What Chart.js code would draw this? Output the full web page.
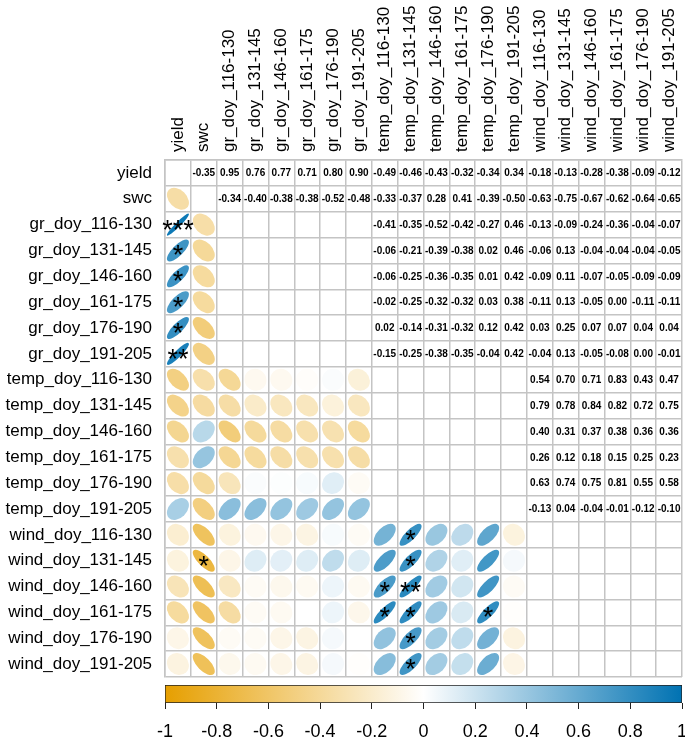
<!DOCTYPE html>
<html>
<head>
<meta charset="utf-8">
<title>Correlation matrix</title>
<script src="https://cdn.jsdelivr.net/npm/chart.js@4.4.1/dist/chart.umd.min.js"></script>
<style>
  html, body { margin: 0; padding: 0; background: #fff; }
  #wrap { position: relative; width: 685px; height: 739px; overflow: hidden; }
  #matrix { position: absolute; left: 0; top: 0; }
  #scale { position: absolute; left: 0; top: 680px; }
</style>
</head>
<body>
<div id="wrap">
  <canvas id="matrix" width="685" height="680"></canvas>
  <canvas id="scale" width="685" height="59"></canvas>
</div>
<script>
const variables = [
    'yield', 'swc',
    'gr_doy_116-130', 'gr_doy_131-145', 'gr_doy_146-160', 'gr_doy_161-175', 'gr_doy_176-190', 'gr_doy_191-205',
    'temp_doy_116-130', 'temp_doy_131-145', 'temp_doy_146-160', 'temp_doy_161-175', 'temp_doy_176-190', 'temp_doy_191-205',
    'wind_doy_116-130', 'wind_doy_131-145', 'wind_doy_146-160', 'wind_doy_161-175', 'wind_doy_176-190', 'wind_doy_191-205'
];

// yield against swc, gr, temp, wind
const yieldCor = [-0.35, 0.95, 0.76, 0.77, 0.71, 0.80, 0.90, -0.49, -0.46, -0.43, -0.32, -0.34, 0.34, -0.18, -0.13, -0.28, -0.38, -0.09, -0.12];
// swc against gr, temp, wind
const swcCor = [-0.34, -0.40, -0.38, -0.38, -0.52, -0.48, -0.33, -0.37, 0.28, 0.41, -0.39, -0.50, -0.63, -0.75, -0.67, -0.62, -0.64, -0.65];
// rows: gr periods, columns: temp periods
const grTempCor = [
    [-0.41, -0.35, -0.52, -0.42, -0.27, 0.46],
    [-0.06, -0.21, -0.39, -0.38, 0.02, 0.46],
    [-0.06, -0.25, -0.36, -0.35, 0.01, 0.42],
    [-0.02, -0.25, -0.32, -0.32, 0.03, 0.38],
    [0.02, -0.14, -0.31, -0.32, 0.12, 0.42],
    [-0.15, -0.25, -0.38, -0.35, -0.04, 0.42]
];
// rows: gr periods, columns: wind periods
const grWindCor = [
    [-0.13, -0.09, -0.24, -0.36, -0.04, -0.07],
    [-0.06, 0.13, -0.04, -0.04, -0.04, -0.05],
    [-0.09, 0.11, -0.07, -0.05, -0.09, -0.09],
    [-0.11, 0.13, -0.05, 0.00, -0.11, -0.11],
    [0.03, 0.25, 0.07, 0.07, 0.04, 0.04],
    [-0.04, 0.13, -0.05, -0.08, 0.00, -0.01]
];
// rows: temp periods, columns: wind periods
const tempWindCor = [
    [0.54, 0.70, 0.71, 0.83, 0.43, 0.47],
    [0.79, 0.78, 0.84, 0.82, 0.72, 0.75],
    [0.40, 0.31, 0.37, 0.38, 0.36, 0.36],
    [0.26, 0.12, 0.18, 0.15, 0.25, 0.23],
    [0.63, 0.74, 0.75, 0.81, 0.55, 0.58],
    [-0.13, 0.04, -0.04, -0.01, -0.12, -0.10]
];
// significance marks in the lower triangle: [row, column, stars]
const sigStars = [
    ['gr_doy_116-130', 'yield', '***'],
    ['gr_doy_131-145', 'yield', '*'],
    ['gr_doy_146-160', 'yield', '*'],
    ['gr_doy_161-175', 'yield', '*'],
    ['gr_doy_176-190', 'yield', '*'],
    ['gr_doy_191-205', 'yield', '**'],
    ['wind_doy_131-145', 'swc', '*'],
    ['wind_doy_116-130', 'temp_doy_131-145', '*'],
    ['wind_doy_131-145', 'temp_doy_131-145', '*'],
    ['wind_doy_146-160', 'temp_doy_116-130', '*'],
    ['wind_doy_146-160', 'temp_doy_131-145', '**'],
    ['wind_doy_161-175', 'temp_doy_116-130', '*'],
    ['wind_doy_161-175', 'temp_doy_131-145', '*'],
    ['wind_doy_161-175', 'temp_doy_176-190', '*'],
    ['wind_doy_176-190', 'temp_doy_131-145', '*'],
    ['wind_doy_191-205', 'temp_doy_131-145', '*']
];
const colorbarTicks = [-1, -0.8, -0.6, -0.4, -0.2, 0, 0.2, 0.4, 0.6, 0.8, 1];

// full symmetric matrix, null where the cell is left empty
const corr = variables.map(() => variables.map(() => null));
function setCor(a, b, v) {
    corr[a][b] = v;
    corr[b][a] = v;
}
yieldCor.forEach((v, k) => setCor(0, k + 1, v));
swcCor.forEach((v, k) => setCor(1, k + 2, v));
grTempCor.forEach((row, i) => row.forEach((v, j) => setCor(2 + i, 8 + j, v)));
grWindCor.forEach((row, i) => row.forEach((v, j) => setCor(2 + i, 14 + j, v)));
tempWindCor.forEach((row, i) => row.forEach((v, j) => setCor(8 + i, 14 + j, v)));

let ellipsePoints = [];
let numberPoints = [];
for (let i = 0; i < variables.length; i++) {
    for (let j = 0; j < variables.length; j++) {
        if (corr[i][j] === null) continue;
        const p = { x: variables[j], y: variables[i], v: corr[i][j] };
        if (i > j) ellipsePoints.push(p);
        else numberPoints.push(p);
    }
}
let starPoints = sigStars.map(s => ({ x: s[1], y: s[0], s: s[2] }));

const lowColor = [230, 159, 0];
const midColor = [255, 255, 255];
const highColor = [0, 114, 178];

function corColor(v) {
    const end = v < 0 ? lowColor : highColor;
    const t = Math.min(1, Math.abs(v));
    const c = midColor.map((m, k) => Math.round(m + (end[k] - m) * t));
    return 'rgb(' + c.join(',') + ')';
}

Chart.defaults.font.family = '"Liberation Sans", Arial, Helvetica, sans-serif';
Chart.defaults.color = '#000';

// draws ellipses, numbers and stars at the positions the scales gave the points
const corrMarks = {
    id: 'corrMarks',
    afterDatasetsDraw(chart) {
        const ctx = chart.ctx;
        const cell = Math.min(chart.scales.x.width, chart.scales.y.height) / variables.length;
        const k = 0.85 / Math.SQRT2 * cell;

        ctx.save();
        chart.getDatasetMeta(0).data.forEach((pt, idx) => {
            const v = chart.data.datasets[0].data[idx].v;
            const a = Math.acos(v);
            ctx.beginPath();
            ctx.ellipse(pt.x, pt.y, k * Math.cos(a / 2), k * Math.sin(a / 2), -Math.PI / 4, 0, 2 * Math.PI);
            ctx.fillStyle = corColor(v);
            ctx.fill();
        });

        ctx.fillStyle = '#000';
        ctx.font = 'bold 10px "Liberation Sans", Arial, sans-serif';
        ctx.textAlign = 'center';
        ctx.textBaseline = 'middle';
        chart.getDatasetMeta(1).data.forEach((pt, idx) => {
            const v = chart.data.datasets[1].data[idx].v;
            ctx.fillText(v.toFixed(2), pt.x, pt.y + 0.5);
        });

        ctx.font = '27px "Liberation Sans", Arial, sans-serif';
        ctx.textBaseline = 'alphabetic';
        const m = ctx.measureText('*');
        const shift = (m.actualBoundingBoxAscent - m.actualBoundingBoxDescent) / 2;
        chart.getDatasetMeta(2).data.forEach((pt, idx) => {
            const s = chart.data.datasets[2].data[idx].s;
            ctx.fillText(s, pt.x, pt.y + shift);
        });
        ctx.restore();
    }
};

const gridColor = '#c4c4c4';

new Chart(document.getElementById('matrix'), {
    type: 'scatter',
    data: {
        datasets: [
            { label: 'ellipse', data: ellipsePoints, pointRadius: 0, pointHoverRadius: 0 },
            { label: 'value', data: numberPoints, pointRadius: 0, pointHoverRadius: 0 },
            { label: 'sig', data: starPoints, pointRadius: 0, pointHoverRadius: 0 }
        ]
    },
    options: {
        responsive: false,
        animation: false,
        events: [],
        layout: { padding: { left: 0, right: 3, top: 0, bottom: 3 } },
        plugins: {
            legend: { display: false },
            tooltip: { enabled: false }
        },
        scales: {
            x: {
                type: 'category',
                labels: variables,
                position: 'top',
                offset: true,
                grid: { offset: true, color: gridColor, lineWidth: 1.5, drawTicks: false },
                border: { display: true, color: gridColor, width: 1.5 },
                ticks: {
                    autoSkip: false,
                    minRotation: 90,
                    maxRotation: 90,
                    padding: 8,
                    labelOffset: 20.4,
                    color: '#000',
                    font: { size: 17 }
                },
                afterFit: s => {
                    s.height = 160;
                    s.paddingLeft = 0;
                    s.paddingRight = 0;
                }
            },
            y: {
                type: 'category',
                labels: variables,
                offset: true,
                grid: { offset: true, color: gridColor, lineWidth: 1.5, drawTicks: false },
                border: { display: true, color: gridColor, width: 1.5 },
                ticks: {
                    autoSkip: false,
                    padding: 13,
                    color: '#000',
                    font: { size: 17 }
                },
                afterFit: s => {
                    s.width = 165;
                    s.paddingTop = 0;
                    s.paddingBottom = 0;
                }
            }
        }
    },
    plugins: [corrMarks]
});

// colour key
new Chart(document.getElementById('scale'), {
    type: 'bar',
    data: {
        labels: ['r'],
        datasets: [{
            data: [[colorbarTicks[0], colorbarTicks[colorbarTicks.length - 1]]],
            backgroundColor: function (context) {
                const area = context.chart.chartArea;
                if (!area) return '#ffffff';
                const g = context.chart.ctx.createLinearGradient(area.left, 0, area.right, 0);
                g.addColorStop(0, corColor(-1));
                g.addColorStop(0.5, corColor(0));
                g.addColorStop(1, corColor(1));
                return g;
            },
            borderColor: '#222',
            borderWidth: 1,
            borderSkipped: false,
            barPercentage: 1,
            categoryPercentage: 1
        }]
    },
    options: {
        indexAxis: 'y',
        responsive: false,
        animation: false,
        events: [],
        layout: { padding: { left: 165, right: 3, top: 5, bottom: 0 } },
        plugins: {
            legend: { display: false },
            tooltip: { enabled: false }
        },
        scales: {
            y: { display: false },
            x: {
                type: 'linear',
                min: colorbarTicks[0],
                max: colorbarTicks[colorbarTicks.length - 1],
                afterBuildTicks: s => { s.ticks = colorbarTicks.map(v => ({ value: v })); },
                grid: { drawOnChartArea: false, drawTicks: true, tickLength: 6, tickColor: '#222', tickWidth: 1 },
                border: { display: false },
                ticks: {
                    color: '#000',
                    padding: 12,
                    font: { size: 18 },
                    callback: v => String(+v.toFixed(1))
                },
                afterFit: s => {
                    s.height = 36;
                    s.paddingLeft = 0;
                    s.paddingRight = 0;
                }
            }
        }
    }
});
</script>
</body>
</html>
